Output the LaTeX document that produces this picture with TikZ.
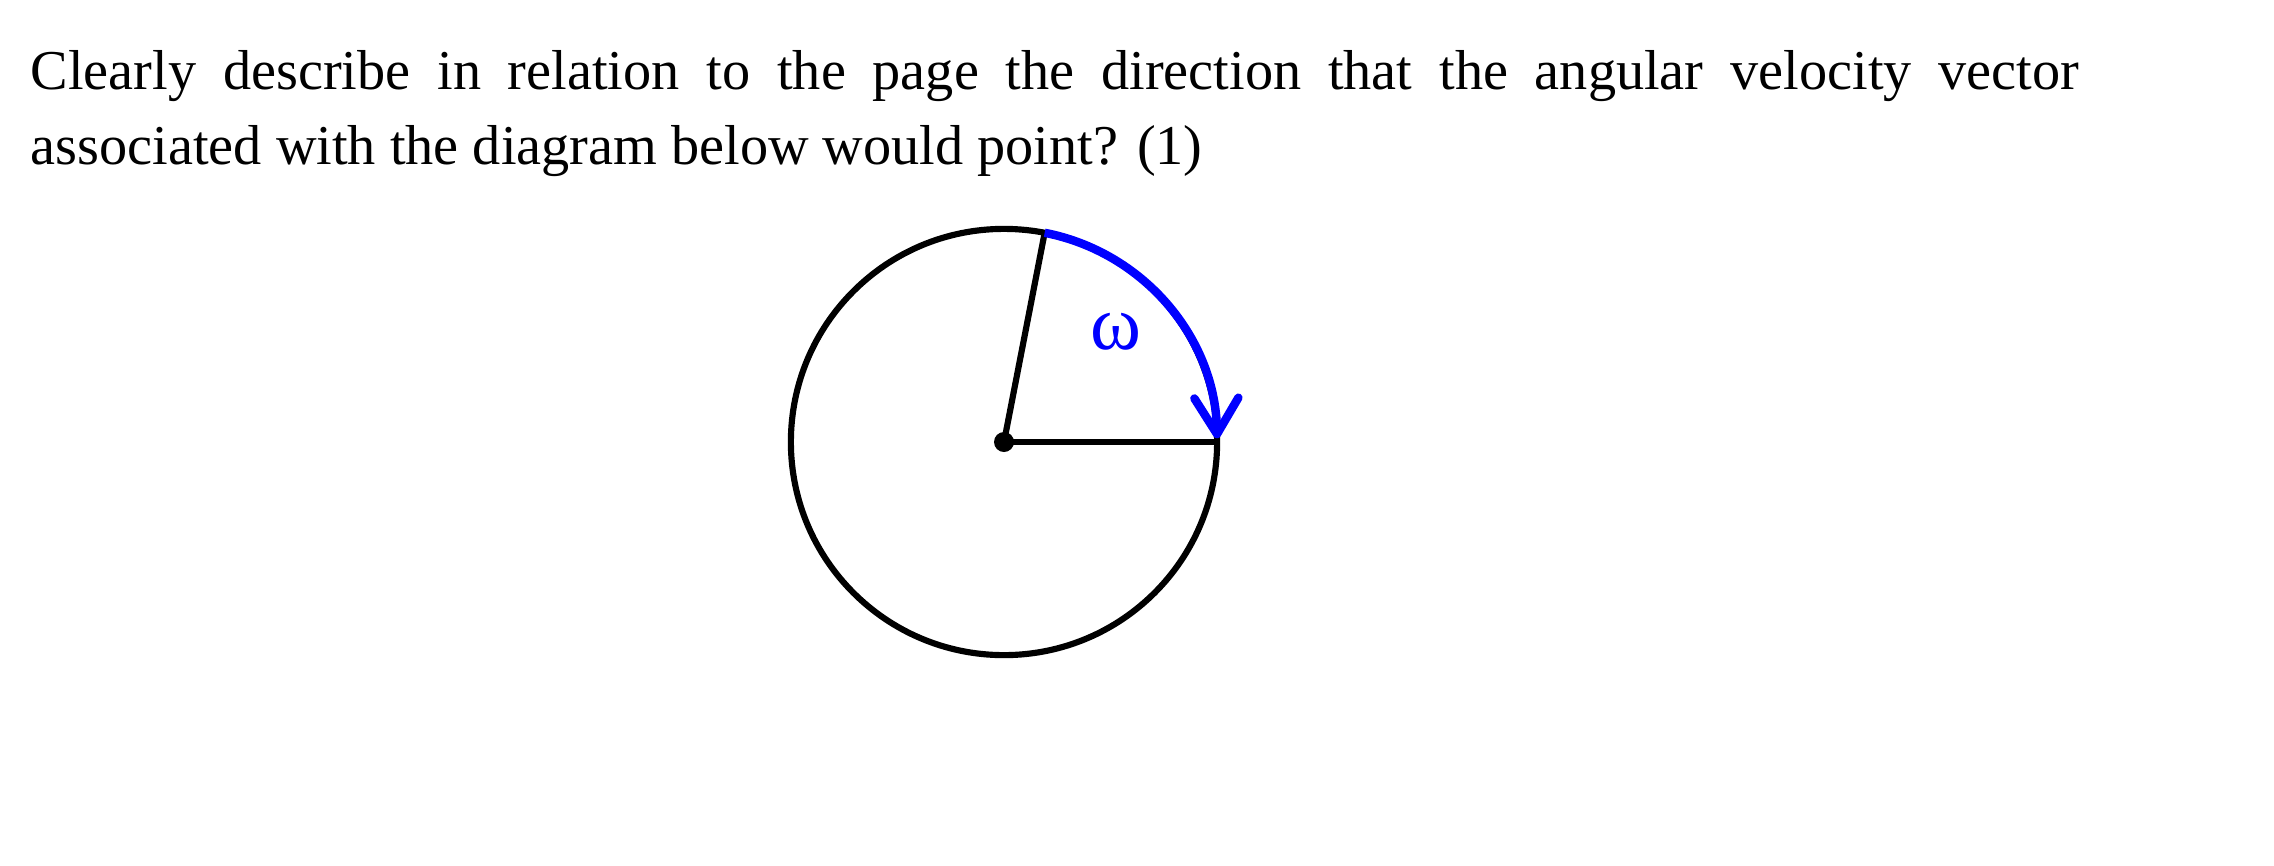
\documentclass[tikz,border=0pt]{standalone}
\usepackage{fontspec}
\setmainfont{Liberation Serif}
\usetikzlibrary{arrows.meta,calc}
\begin{document}
\begin{tikzpicture}[x=0.01cm,y=0.01cm,
  qtext/.style={anchor=base west, inner sep=0pt, font=\fontsize{16pt}{21pt}\selectfont},
  rim/.style={line width=1.75pt, black},
  spin/.style={line width=2.4pt, blue, -{Straight Barb[length=0.36cm, width=0.44cm, line cap=round, line join=round]}}]
\useasboundingbox (0,0) rectangle (2274,-866);
\node[qtext] (t1) at (30,-89) {\makebox[20.47cm][s]{Clearly describe in relation to the page the direction that the angular velocity vector}};
\node[qtext] (t2) at (30,-164) {associated with the diagram below would point? (1)};
\node[circle, fill=black, inner sep=0pt, minimum size=0.2cm] (O) at (1004,-442) {};
\draw[rim] (O.center) circle [radius=2.13cm];
\coordinate (A) at ($(O.center)+(79:2.13cm)$);
\coordinate (B) at ($(O.center)+(0:2.13cm)$);
\draw[rim] (O.center) -- (A);
\draw[rim] (O.center) -- (B);
\draw[spin] (A) arc[start angle=79, end angle=1, radius=2.13cm];
\node[text=blue, inner sep=0pt, font=\fontsize{22pt}{24pt}\selectfont] (w) at (1116,-332) {ω};
\end{tikzpicture}
\end{document}
